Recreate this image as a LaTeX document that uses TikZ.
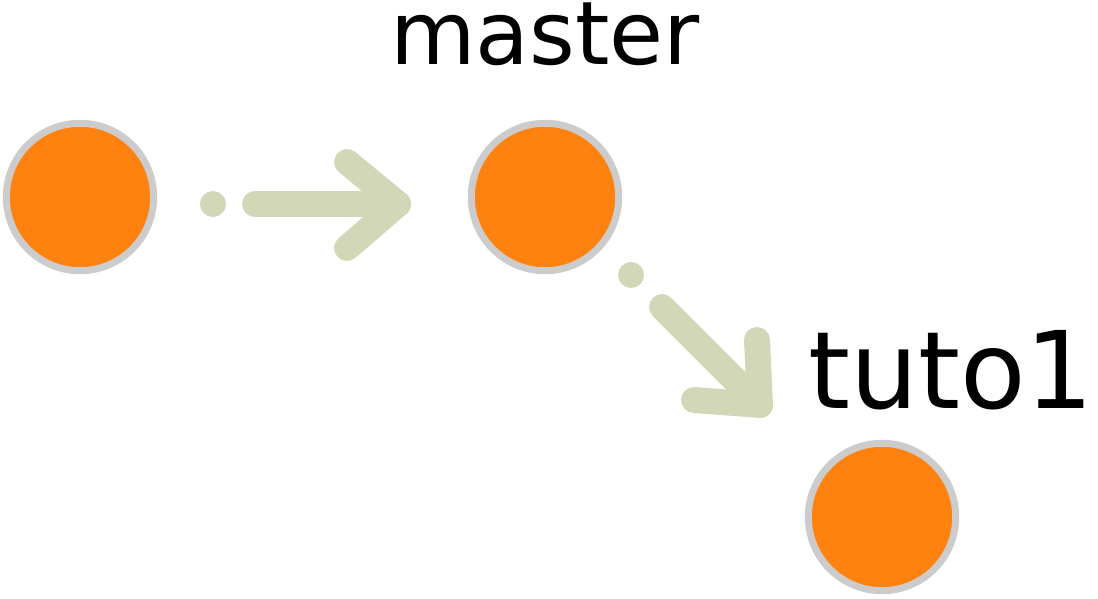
\documentclass[tikz,border=0pt]{standalone}
\usepackage{fontspec}
\setmainfont{DejaVu Sans}
\begin{document}
\begin{tikzpicture}[x=0.02cm,y=-0.02cm,
  commit/.style={circle,fill={rgb,255:red,255;green,130;blue,16},draw={rgb,255:red,204;green,204;blue,204},line width=7*0.567pt,minimum size=148*0.567pt,inner sep=0pt},
  conn/.style={draw={rgb,255:red,209;green,215;blue,183},line width=26*0.567pt,line cap=round,line join=round},
  dotc/.style={fill={rgb,255:red,209;green,215;blue,183}}]
\useasboundingbox (0,0) rectangle (1098,598);
\node[commit] (c1) at (80,197) {};
\node[commit] (c2) at (545,197) {};
\node[commit] (c3) at (882,517) {};
\node[font=\fontsize{50}{60}\selectfont,anchor=base] (lm) at (545,65) {master};
\node[font=\fontsize{61}{72}\selectfont,anchor=base west,inner sep=0pt] (lt) at (808,408) {tuto1};
\coordinate (d1) at (213,204);
\coordinate (s1) at (255,204);
\coordinate (e1) at (398,204);
\coordinate (d2) at (631,275);
\coordinate (s2) at (662,307);
\coordinate (e2) at (760,405);
\fill[dotc] (d1) circle (13);
\fill[dotc] (d2) circle (13);
\path[conn] (s1) -- (e1);
\path[conn] (347,162) -- (e1) -- (347,248);
\path[conn] (s2) -- (e2);
\path[conn] (694,400) -- (e2) -- (757,340);
\end{tikzpicture}
\end{document}
